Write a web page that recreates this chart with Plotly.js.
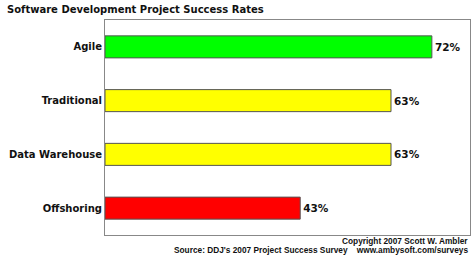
<!DOCTYPE html>
<html><head><meta charset="utf-8">
<script src="https://cdn.plot.ly/plotly-3.0.1.min.js"></script>
<style>body{margin:0;background:#fff}#c{width:474px;height:255px}</style>
</head><body><div id="c"></div>
<script>
const categories = ["Agile", "Traditional", "Data Warehouse", "Offshoring"];
const successRates = [72, 63, 63, 43];
const barColors = ["#00ff00", "#ffff00", "#ffff00", "#ff0000"];
const valueLabels = successRates.map(v => v + "%");

const font = "Arial, 'Liberation Sans', sans-serif";
const wide = "'DejaVu Sans', Verdana, sans-serif";
const trace = {
  type: "bar", orientation: "h",
  y: categories, x: successRates,
  marker: {color: barColors, line: {color: "#555", width: 1}},
  width: 0.41,
  text: valueLabels, textposition: "outside", cliponaxis: false,
  textfont: {family: wide, size: 10.5, color: "#111", weight: "bold"},
  hoverinfo: "none"
};
const layout = {
  width: 474, height: 255,
  margin: {l: 105, r: 4, t: 20, b: 20},
  paper_bgcolor: "#fff", plot_bgcolor: "#fff",
  showlegend: false,
  xaxis: {range: [0, 80.4], showgrid: false, zeroline: false, showticklabels: false, ticks: "",
          showline: true, mirror: true, linecolor: "#888", linewidth: 1},
  yaxis: {categoryorder: "array", categoryarray: categories, range: [3.5, -0.5],
          showgrid: false, zeroline: false, ticks: "", ticklen: 0,
          showline: true, mirror: true, linecolor: "#888", linewidth: 1,
          tickfont: {family: wide, size: 10, color: "#111", weight: "bold"}},
  annotations: [
    {text: "Software Development Project Success Rates", xref: "paper", yref: "paper",
     x: -100/365, y: 1, yshift: 11, xanchor: "left", yanchor: "middle", showarrow: false,
     font: {family: wide, size: 10, color: "#111", weight: "bold"}},
    {text: "Copyright 2007 Scott W. Ambler", xref: "paper", yref: "paper",
     x: 1, y: 0, yshift: -6, xanchor: "right", yanchor: "middle", showarrow: false,
     font: {family: font, size: 8.3, color: "#111", weight: "bold"}},
    {text: "Source: DDJ's 2007 Project Success Survey&nbsp;&nbsp;&nbsp;&nbsp;www.ambysoft.com/surveys", xref: "paper", yref: "paper",
     x: 1, y: 0, yshift: -15, xanchor: "right", yanchor: "middle", showarrow: false,
     font: {family: font, size: 8.3, color: "#111", weight: "bold"}}
  ]
};
Plotly.newPlot("c", [trace], layout, {staticPlot: true, displayModeBar: false});
</script></body></html>
